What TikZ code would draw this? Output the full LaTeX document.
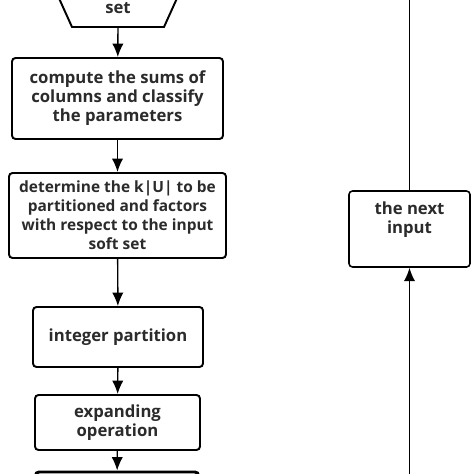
\documentclass[tikz,border=0pt]{standalone}
\usepackage{fontspec}
\setmainfont{Open Sans}
\usetikzlibrary{arrows.meta}
\definecolor{ink}{HTML}{2B2B2B}
\tikzset{
    stepbox/.style={draw=black, line width=1.1pt, rounded corners=2pt, fill=white,
        align=center, text=ink, inner sep=0pt,
        font=\bfseries\fontsize{9.5}{10.8}\selectfont},
    flow/.style={-{Latex[length=7.6pt,width=6.4pt]}, line width=0.8pt},
}
\begin{document}
\begin{tikzpicture}[x=0.2mm,y=-0.2mm]
        \useasboundingbox (0,0) rectangle (474,474);
        \clip (0,0) rectangle (474,474);
        %% input (cut off at the top)
        \draw[line width=1.1pt] (53,-15) -- (72,27) -- (164,27) -- (183,-15);
        \node[text=ink, font=\bfseries\fontsize{9.5}{10.8}\selectfont] (inset) at (118,8) {set};
        \coordinate (inset-b) at (118,27);
        %% steps
        \node[stepbox, minimum width=42.2mm, minimum height=16.2mm] (sums) at (117.5,98.5)
            {compute the sums of\\columns and classify\\the parameters};
        \node[stepbox, font=\bfseries\fontsize{8.8}{10.8}\selectfont,
            minimum width=43.4mm, minimum height=17mm] (factors) at (117.5,215.5)
            {determine the k|U| to be\\partitioned and factors\\with respect to the input\\soft set};
        \node[stepbox, minimum width=34mm, minimum height=12mm] (partition) at (118,337)
            {integer partition};
        \node[stepbox, minimum width=33mm, minimum height=11mm] (expand) at (117.5,422.5)
            {expanding\\operation};
        \node[stepbox, line width=1.7pt, minimum width=32.6mm, minimum height=8mm] (result) at (117,492) {};
        \draw[flow] (inset-b) -- (sums);
        \draw[flow] (sums) -- (factors);
        \draw[flow] (factors) -- (partition);
        \draw[flow] (partition) -- (expand);
        \draw[flow] (expand) -- (result);
        %% next input
        \node[stepbox, line width=0.9pt, minimum width=24.2mm, minimum height=15.2mm,
            label={[text=ink, align=center, yshift=1.8mm, font=\bfseries\fontsize{9.5}{10.8}\selectfont]center:{the next\\input}}]
            (next) at (409.5,229) {};
        \coordinate (next-top) at (409.5,-5);
        \coordinate (next-bot) at (409.5,480);
        \draw[line width=0.8pt] (next-top) -- (next);
        \draw[flow] (next-bot) -- (next);
\end{tikzpicture}
\end{document}
